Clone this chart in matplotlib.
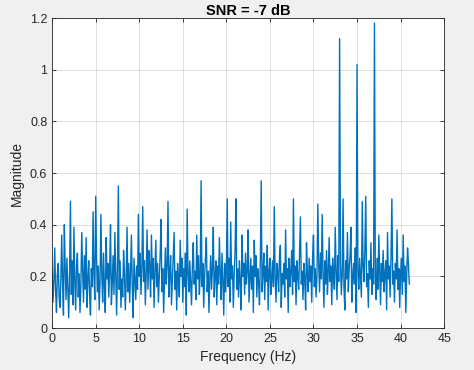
import numpy as np
import matplotlib
matplotlib.use("Agg")
import matplotlib.pyplot as plt

# magnitude spectrum, 0.1 Hz steps from 0 to 41 Hz
magnitude = [
    0.22, 0.10, 0.18, 0.31, 0.14, 0.06, 0.21, 0.25, 0.12, 0.08, 0.19, 0.36, 0.17, 0.05, 0.40, 0.23, 0.11, 0.27, 0.15, 0.04,
    0.20, 0.49, 0.13, 0.26, 0.09, 0.39, 0.18, 0.07, 0.24, 0.29, 0.12, 0.21, 0.06, 0.17, 0.37, 0.22, 0.10, 0.28, 0.15, 0.35,
    0.08, 0.19, 0.26, 0.13, 0.05, 0.23, 0.16, 0.45, 0.20, 0.11, 0.51, 0.27, 0.14, 0.24, 0.07, 0.18, 0.44, 0.21, 0.10, 0.29,
    0.16, 0.06, 0.35, 0.19, 0.25, 0.12, 0.22, 0.40, 0.09, 0.17, 0.28, 0.13, 0.37, 0.20, 0.05, 0.23, 0.55, 0.15, 0.26, 0.08,
    0.19, 0.12, 0.30, 0.22, 0.07, 0.18, 0.39, 0.14, 0.25, 0.10, 0.21, 0.36, 0.16, 0.04, 0.27, 0.19, 0.11, 0.24, 0.15, 0.44,
    0.20, 0.29, 0.13, 0.23, 0.47, 0.18, 0.26, 0.09, 0.21, 0.38, 0.15, 0.30, 0.24, 0.12, 0.36, 0.19, 0.27, 0.08, 0.22, 0.34,
    0.16, 0.25, 0.10, 0.20, 0.28, 0.42, 0.14, 0.23, 0.06, 0.19, 0.31, 0.17, 0.24, 0.49, 0.12, 0.21, 0.28, 0.09, 0.18, 0.26,
    0.37, 0.15, 0.22, 0.07, 0.25, 0.19, 0.12, 0.34, 0.20, 0.27, 0.10, 0.23, 0.16, 0.29, 0.05, 0.46, 0.21, 0.14, 0.26, 0.18,
    0.09, 0.24, 0.33, 0.17, 0.22, 0.11, 0.36, 0.19, 0.28, 0.13, 0.21, 0.57, 0.16, 0.25, 0.08, 0.20, 0.27, 0.35, 0.14, 0.22,
    0.06, 0.19, 0.28, 0.15, 0.23, 0.39, 0.12, 0.20, 0.26, 0.09, 0.24, 0.17, 0.35, 0.21, 0.11, 0.29, 0.18, 0.05, 0.25, 0.14,
    0.22, 0.50, 0.16, 0.27, 0.10, 0.41, 0.19, 0.24, 0.08, 0.21, 0.30, 0.50, 0.15, 0.23, 0.12, 0.26, 0.18, 0.07, 0.36, 0.20,
    0.25, 0.13, 0.29, 0.17, 0.22, 0.38, 0.10, 0.19, 0.27, 0.15, 0.24, 0.06, 0.34, 0.20, 0.28, 0.12, 0.23, 0.18, 0.09, 0.26,
    0.57, 0.14, 0.21, 0.29, 0.11, 0.24, 0.18, 0.32, 0.07, 0.22, 0.27, 0.13, 0.20, 0.26, 0.16, 0.47, 0.19, 0.10, 0.25, 0.22,
    0.14, 0.28, 0.32, 0.08, 0.21, 0.17, 0.25, 0.12, 0.38, 0.19, 0.23, 0.06, 0.27, 0.16, 0.22, 0.30, 0.13, 0.50, 0.18, 0.24,
    0.09, 0.26, 0.20, 0.15, 0.29, 0.43, 0.17, 0.22, 0.11, 0.25, 0.19, 0.07, 0.33, 0.21, 0.14, 0.27, 0.18, 0.24, 0.10, 0.28,
    0.36, 0.16, 0.23, 0.12, 0.20, 0.48, 0.25, 0.14, 0.29, 0.19, 0.44, 0.21, 0.08, 0.26, 0.17, 0.30, 0.13, 0.22, 0.35, 0.18,
    0.24, 0.09, 0.27, 0.20, 0.15, 0.39, 0.22, 0.11, 0.28, 0.18, 1.12, 0.25, 0.13, 0.21, 0.50, 0.16, 0.07, 0.26, 0.19, 0.37,
    0.14, 0.23, 0.28, 0.39, 0.10, 0.20, 0.25, 0.17, 0.31, 0.06, 1.02, 0.22, 0.15, 0.27, 0.19, 0.12, 0.49, 0.24, 0.18, 0.30,
    0.51, 0.16, 0.21, 0.08, 0.26, 0.19, 0.33, 0.13, 0.23, 0.17, 1.18, 0.20, 0.11, 0.27, 0.15, 0.36, 0.22, 0.09, 0.25, 0.18,
    0.30, 0.14, 0.21, 0.26, 0.07, 0.37, 0.19, 0.24, 0.12, 0.28, 0.50, 0.17, 0.22, 0.10, 0.25, 0.19, 0.38, 0.15, 0.23, 0.08,
    0.21, 0.27, 0.13, 0.36, 0.18, 0.24, 0.06, 0.20, 0.31, 0.25, 0.17,
]
freq = np.arange(len(magnitude)) * 0.1

x_ticks = [0, 5, 10, 15, 20, 25, 30, 35, 40, 45]
y_ticks = [0, 0.2, 0.4, 0.6, 0.8, 1.0, 1.2]
y_labels = ["0", "0.2", "0.4", "0.6", "0.8", "1", "1.2"]

plt.rcParams["font.family"] = ["Liberation Sans", "DejaVu Sans"]

fig = plt.figure(figsize=(4.74, 3.70), dpi=100, facecolor="#f0f0f0")
ax = fig.add_axes([0.110, 0.1135, 0.827, 0.8378])
ax.set_facecolor("white")

ax.plot(freq, magnitude, color="#0072BD", linewidth=1.0)

ax.set_xlim(0, 45)
ax.set_ylim(0, 1.2)
ax.set_xticks(x_ticks)
ax.set_yticks(y_ticks)
ax.set_yticklabels(y_labels)
ax.grid(True, color="#d9d9d9", linewidth=0.6)
ax.set_axisbelow(True)

ax.tick_params(direction="in", length=3, width=0.6, colors="#262626",
               labelsize=9, top=True, right=True)
for side in ax.spines.values():
    side.set_color("#262626")
    side.set_linewidth(0.6)

ax.set_xlabel("Frequency (Hz)", fontsize=10, color="#262626")
ax.set_ylabel("Magnitude", fontsize=10, color="#262626")
ax.set_title("SNR = -7 dB", fontsize=10.5, fontweight="bold", pad=2)

fig.savefig("out.png", dpi=100, facecolor=fig.get_facecolor())
